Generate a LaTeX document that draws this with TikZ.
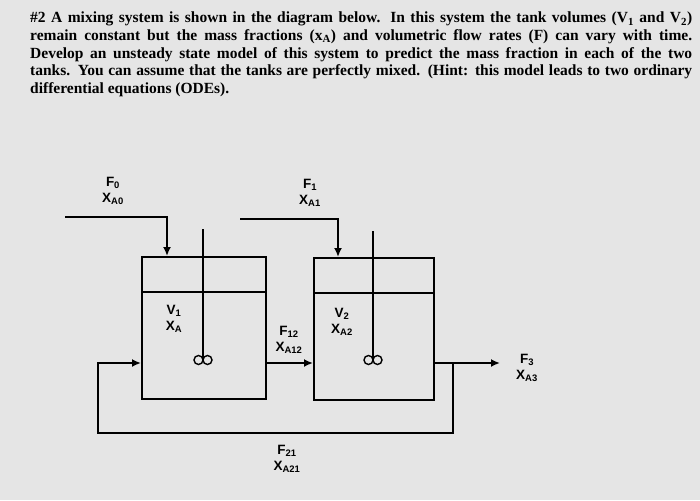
\documentclass[tikz,border=0pt]{standalone}
\usepackage{fontspec}
\setmainfont{Liberation Serif}
\newfontfamily\lab{Liberation Sans}
\begin{document}
\begin{tikzpicture}[x=1pt,y=-1pt,
  pipe/.style={line width=1.8pt},
  flow/.style={pipe,-{Latex[length=9pt,width=8pt]}},
  tank/.style={draw,line width=1.8pt,minimum width=124pt,minimum height=142pt,inner sep=0pt},
  lbl/.style={font=\lab\bfseries\fontsize{13.5}{14}\selectfont,align=center,inner sep=1pt}]
\usetikzlibrary{arrows.meta}
\fill[black!10] (0,0) rectangle (700,500);
\useasboundingbox (0,0) rectangle (700,500);
% problem text
\node[anchor=north west,text width=662pt,align=justify,inner sep=0pt,
  font=\bfseries\fontsize{15.5}{17.6}\selectfont] (txt) at (30,12)
 {\#2 A mixing system is shown in the diagram below. In this system the tank volumes (V\textsubscript{1} and V\textsubscript{2})\linebreak
 remain constant but the mass fractions (x\textsubscript{A}) and volumetric flow rates (F) can vary with time.\linebreak
 Develop an unsteady state model of this system to predict the mass fraction in each of the two\linebreak
 tanks. You can assume that the tanks are perfectly mixed. (Hint: this model leads to two ordinary\linebreak
 differential equations (ODEs).};
% tanks
\node[tank,anchor=north west] (t1) at (141,256) {};
\node[tank,anchor=north west,minimum width=120pt] (t2) at (313,257) {};
\draw[line width=1.6pt] (141,292) -- (265,292);
\draw[line width=1.6pt] (313,293) -- (433,293);
% stirrers
\draw[line width=1.6pt] (203,229) -- (203,360);
\draw[line width=1.6pt] (373,231) -- (373,360);
\foreach \c in {203,373}{
  \draw[line width=1.4pt] (\c-4.5,360) circle (4.5pt) (\c+4.5,360) circle (4.5pt);}
% feeds
\coordinate (f0s) at (65,217);
\coordinate (f1s) at (240,219);
\draw[flow] (f0s) -| (167,256);
\draw[flow] (f1s) -| (338,257);
% connections
\draw[flow] (265,363) -- (313,363);
\coordinate (out) at (500,363);
\coordinate (br) at (453,363);
\draw[flow] (433,363) -- (out);
\draw[flow] (br) -- (453,433) -- (98,433) -- (98,363) -- (141,363);
% labels
\node[lbl] (lf0) at (113,191) {F\textsubscript{0}\\[2pt]X\textsubscript{A0}};
\node[lbl] (lf1) at (310,193) {F\textsubscript{1}\\[2pt]X\textsubscript{A1}};
\node[lbl] (lv1) at (174,319) {V\textsubscript{1}\\[2pt]X\textsubscript{A}};
\node[lbl] (lv2) at (342,322) {V\textsubscript{2}\\[2pt]X\textsubscript{A2}};
\node[lbl] (lf12) at (289,340) {F\textsubscript{12}\\[2pt]X\textsubscript{A12}};
\node[lbl] (lf3) at (527,368) {F\textsubscript{3}\\[2pt]X\textsubscript{A3}};
\node[lbl] (lf21) at (287,459) {F\textsubscript{21}\\[2pt]X\textsubscript{A21}};
\end{tikzpicture}
\end{document}
